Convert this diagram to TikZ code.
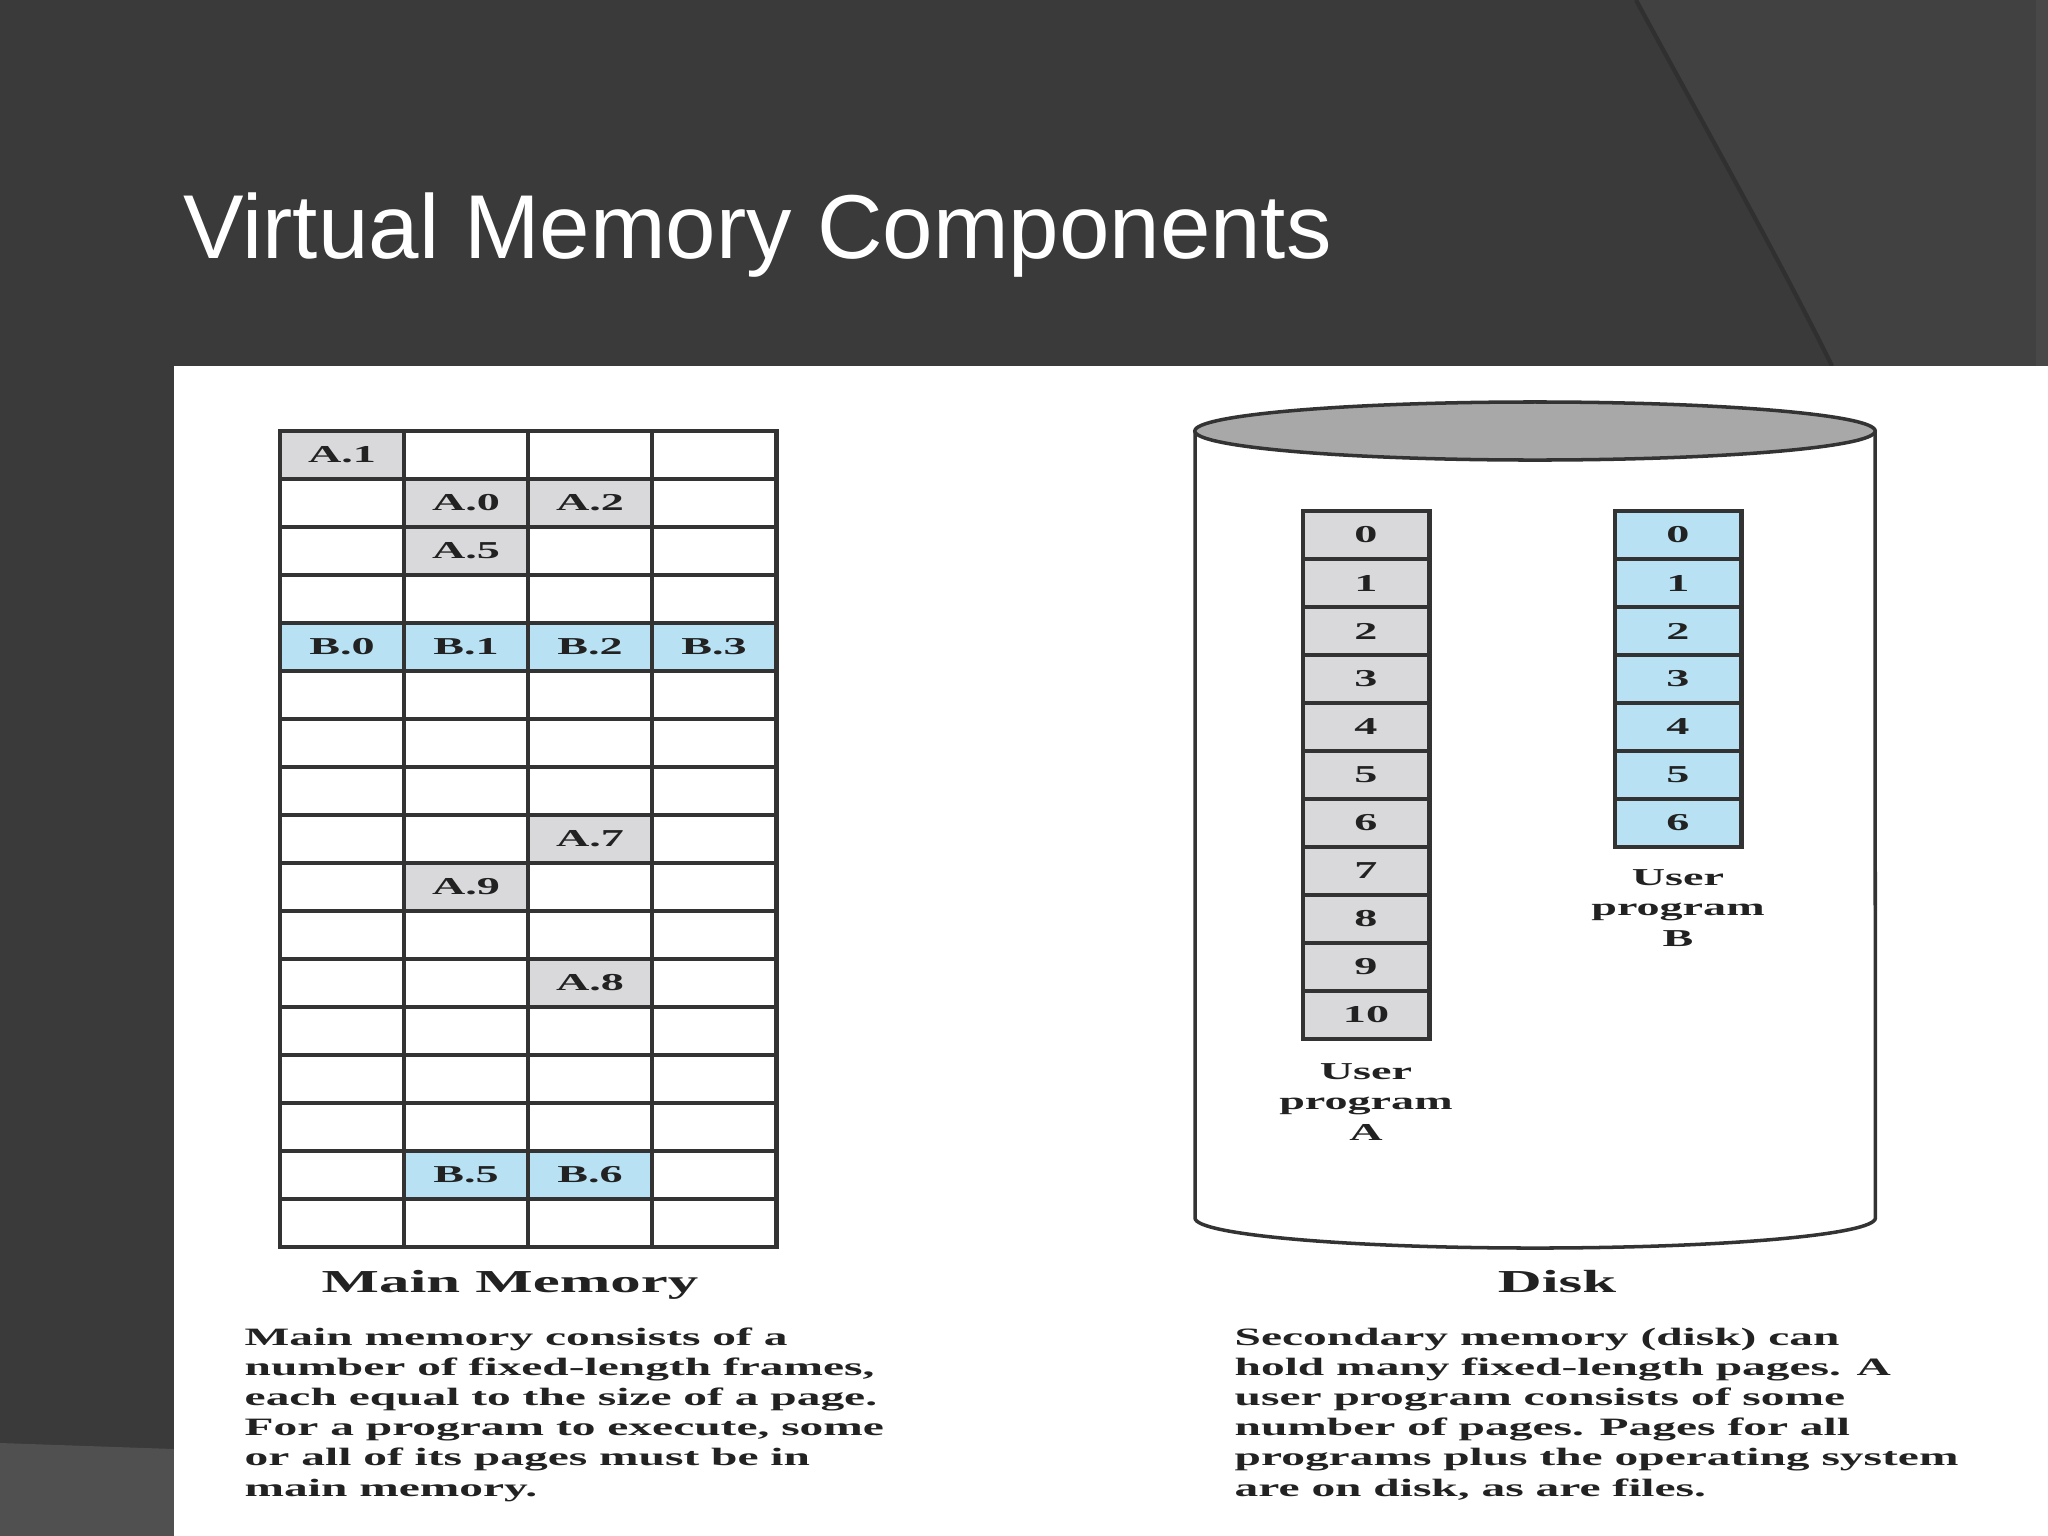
\documentclass[tikz,border=0pt]{standalone}
\usepackage{fontspec}
\usetikzlibrary{shapes.geometric}
\setmainfont{Liberation Serif}
\newfontfamily\figfont[FakeStretch=1.9]{Liberation Serif}
\newfontfamily\titlefont{Liberation Sans}
\definecolor{bgdark}{HTML}{3A3A3A}
\definecolor{bgmid}{HTML}{414141}
\definecolor{bgedge}{HTML}{484848}
\definecolor{bglight}{HTML}{505050}
\definecolor{bgshade}{HTML}{303030}
\definecolor{cellgrey}{HTML}{D9D9DB}
\definecolor{cellblue}{HTML}{B8E2F4}
\definecolor{linec}{HTML}{333333}
\definecolor{lidgrey}{HTML}{A8A8A8}
\definecolor{ink}{HTML}{222222}
\tikzset{
  cell/.style={draw=linec, line width=1pt, minimum width=1.24cm, minimum height=0.48cm,
    inner sep=0pt, outer sep=0pt, text=ink, font=\figfont\bfseries\fontsize{6.9}{8}\selectfont},
  greycell/.style={cell, fill=cellgrey},
  bluecell/.style={cell, fill=cellblue},
  pagebox/.style={cell, minimum width=1.26cm},
  frameline/.style={draw=linec, line width=1.4pt},
  heading/.style={text=ink, font=\figfont\bfseries\fontsize{9.1}{11}\selectfont, inner sep=0pt, anchor=base},
  desc/.style={text=ink, font=\figfont\bfseries\fontsize{7.1}{8.54}\selectfont, align=left, inner sep=0pt, anchor=base west},
  proglabel/.style={text=ink, font=\figfont\bfseries\fontsize{6.9}{8.54}\selectfont, align=center, inner sep=0pt, anchor=base},
}
\begin{document}
\begin{tikzpicture}[x=0.01cm, y=-0.01cm]
\useasboundingbox (0,0) rectangle (2048,1536);
% slide background
\fill[bgdark] (0,0) rectangle (2048,1536);
\fill[bgmid] (1636,0) .. controls (1690,100) and (1780,260) .. (1832,366) -- (2048,366) -- (2048,0) -- cycle;
\draw[bgshade, line width=1.2pt] (1636,0) .. controls (1690,100) and (1780,260) .. (1832,366);
\fill[bgedge] (2036,0) rectangle (2048,366);
\fill[bglight] (0,1443) -- (174,1449) -- (174,1536) -- (0,1536) -- cycle;
\fill[white] (174,366) rectangle (2048,1536);
% title
\node[anchor=base west, inner sep=0pt, text=white, font=\titlefont\fontsize{25.8}{30}\selectfont] (title) at (183,258) {Virtual Memory Components};
% main memory grid
\foreach \r in {0,...,16} {
  \foreach \c in {0,...,3} {
    \node[cell] (m-\r-\c) at ({280+124*(\c+0.5)}, {431+48*(\r+0.5)}) {};
  }
}
\foreach \r/\c/\t in {0/0/A.1, 1/1/A.0, 1/2/A.2, 2/1/A.5, 8/2/A.7, 9/1/A.9, 11/2/A.8}
  \node[greycell] (a-\r-\c) at (m-\r-\c) {\t};
\foreach \r/\c/\t in {4/0/B.0, 4/1/B.1, 4/2/B.2, 4/3/B.3, 15/1/B.5, 15/2/B.6}
  \node[bluecell] (b-\r-\c) at (m-\r-\c) {\t};
\draw[frameline] (m-0-0.north west) rectangle (m-16-3.south east);
\node[heading] (mmlabel) at (510,1292) {Main Memory};
% multi-line nodes: base anchor is the baseline of the last line
\node[desc] (mmdesc) at (244,1496) {Main memory consists of a\\number of fixed-length frames,\\each equal to the size of a page.\\For a program to execute, some\\or all of its pages must be in\\main memory.};
% disk
\draw[draw=linec, line width=1pt, fill=white] (1195,431) -- (1195,1218)
  arc[start angle=180, end angle=360, x radius=3.4cm, y radius=0.30cm] -- (1875,431);
\node[ellipse, draw=linec, line width=1pt, fill=lidgrey, minimum width=6.8cm, minimum height=0.58cm, inner sep=0pt] (lid) at (1535,431) {};
\foreach \i in {0,...,10}
  \node[pagebox, fill=cellgrey] (pa-\i) at (1366, {511+48*(\i+0.5)}) {\i};
\draw[frameline] (pa-0.north west) rectangle (pa-10.south east);
\foreach \i in {0,...,6}
  \node[pagebox, fill=cellblue] (pb-\i) at (1678, {511+48*(\i+0.5)}) {\i};
\draw[frameline] (pb-0.north west) rectangle (pb-6.south east);
\node[proglabel] (labA) at (1366,1140) {User\\program\\A};
\node[proglabel] (labB) at (1678,946) {User\\program\\B};
\node[heading] (disklabel) at (1557,1292) {Disk};
\node[desc] (diskdesc) at (1234,1496) {Secondary memory (disk) can\\hold many fixed-length pages. A\\user program consists of some\\number of pages. Pages for all\\programs plus the operating system\\are on disk, as are files.};
\end{tikzpicture}
\end{document}
